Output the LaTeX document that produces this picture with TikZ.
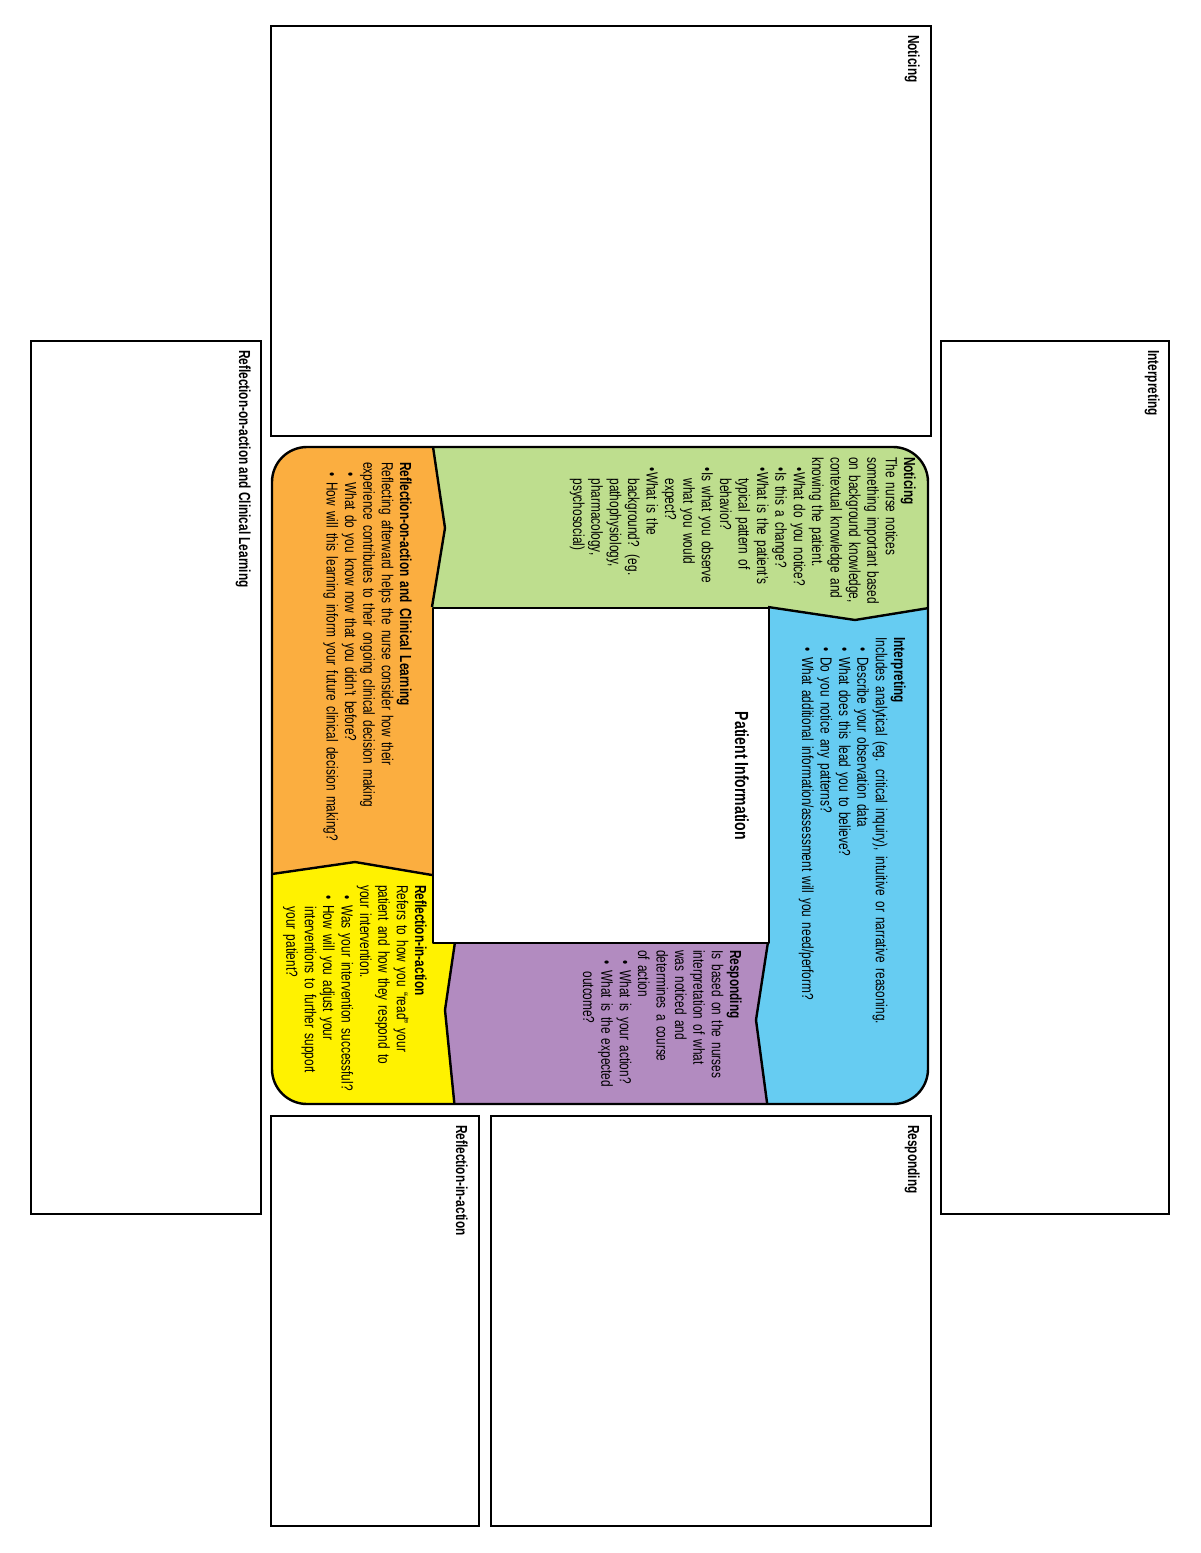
\documentclass[tikz,border=0pt]{standalone}
\usepackage{fontspec}
\setmainfont{Liberation Sans}[FakeStretch=0.74]
\definecolor{cgreen}{HTML}{BEDE8E}
\definecolor{cblue}{HTML}{66CCF2}
\definecolor{cpurple}{HTML}{B28BC0}
\definecolor{cyellow}{HTML}{FFF200}
\definecolor{corange}{HTML}{FBAE40}
\tikzset{
  box/.style={draw=black,line width=2pt},
  seg/.style={draw=black,line width=2.4pt,line join=round},
  txt/.style={rotate=-90,anchor=north west,align=left,inner sep=0pt,font=\fontsize{16}{18.4}\selectfont},
  lbl/.style={rotate=-90,anchor=north west,inner sep=0pt,font=\fontsize{16}{18}\selectfont\bfseries},
}
\begin{document}
\begin{tikzpicture}[x=1pt,y=-1pt]
\useasboundingbox (0,0) rectangle (1200,1553);
\fill[white] (0,0) rectangle (1200,1553);
% outer answer boxes
\node[box,minimum width=660,minimum height=410,anchor=north west,inner sep=0] (bN) at (270,25) {};
\node[box,minimum width=228,minimum height=873,anchor=north west,inner sep=0] (bI) at (940,340) {};
\node[box,minimum width=440,minimum height=410,anchor=north west,inner sep=0] (bR) at (490,1115) {};
\node[box,minimum width=208,minimum height=410,anchor=north west,inner sep=0] (bA) at (270,1115) {};
\node[box,minimum width=230,minimum height=873,anchor=north west,inner sep=0] (bL) at (30,340) {};
\node[lbl] (lN) at (920,35) {Noticing};
\node[lbl] (lI) at (1160,350) {Interpreting};
\node[lbl] (lR) at (920,1125) {Responding};
\node[lbl] (lA) at (468,1125) {Reflection-in-action};
\node[lbl] (lL) at (251,350) {Reflection-on-action and Clinical Learning};
% central wheel
\begin{scope}
\clip[rounded corners=35] (272,447) rectangle (928,1104);
\fill[cgreen] (432,440)--(445,528)--(432,607)--(768,607)--(855,620)--(935,607)--(935,440)--cycle;
\fill[cblue] (768,607)--(855,620)--(935,607)--(935,1110)--(768,1110)--(756,1020)--(768,942)--cycle;
\fill[cpurple] (768,942)--(756,1020)--(768,1110)--(455,1110)--(445,1010)--(455,942)--cycle;
\fill[cyellow] (455,942)--(445,1010)--(455,1110)--(265,1110)--(265,875)--(355,862)--(432,875)--(432,942)--cycle;
\fill[corange] (265,440)--(432,440)--(445,528)--(432,607)--(432,875)--(355,862)--(265,875)--cycle;
\draw[seg] (432,440)--(445,528)--(432,607);
\draw[seg] (768,607)--(855,620)--(935,607);
\draw[seg] (768,942)--(756,1020)--(768,1110);
\draw[seg] (455,942)--(445,1010)--(455,1110);
\draw[seg] (265,875)--(355,862)--(432,875);
\end{scope}
\node[seg,fill=white,minimum width=336,minimum height=335,anchor=north west,inner sep=0] (pi) at (432,607) {};
\draw[seg,rounded corners=35] (272,447) rectangle (928,1104);
\node[rotate=-90,font=\fontsize{19}{21}\selectfont\bfseries] (pt) at (742,776) {Patient Information};
% texts
\node[txt,text width=200] (tN) at (916,457) {\textbf{Noticing}\\The nurse notices\\something important based\\on background knowledge,\\contextual knowledge and\\knowing the patient.\\\ \ •What do you notice?\\\ \ •Is this a change?\\\ \ •What is the patient's\\\ \ \ \ typical pattern of\\\ \ \ \ behavior?\\\ \ •Is what you observe\\\ \ \ \ what you would\\\ \ \ \ expect?\\\ \ •What is the\\\ \ \ \ background? (eg.\\\ \ \ \ pathophysiology,\\\ \ \ \ pharmacology,\\\ \ \ \ psychosocial)};
\node[txt,text width=600] (tI) at (906,637) {\textbf{Interpreting}\\Includes analytical (eg. critical inquiry), intuitive or narrative reasoning.\\\ \ • Describe your observation data\\\ \ • What does this lead you to believe?\\\ \ • Do you notice any patterns?\\\ \ • What additional information/assessment will you need/perform?};
\node[txt,text width=200] (tR) at (742,950) {\textbf{Responding}\\Is based on the nurses\\interpretation of what\\was noticed and\\determines a course\\of action\\\ \ • What is your action?\\\ \ • What is the expected\\\ \ \ \ outcome?};
\node[txt,text width=300] (tA) at (427,885) {\textbf{Reflection-in-action}\\Refers to how you “read” your\\patient and how they respond to\\your intervention.\\\ \ • Was your intervention successful?\\\ \ • How will you adjust your\\\ \ \ \ interventions to further support\\\ \ \ \ your patient?};
\node[txt,text width=600] (tL) at (412,462) {\textbf{Reflection-on-action and Clinical Learning}\\Reflecting afterward helps the nurse consider how their\\experience contributes to their ongoing clinical decision making\\\ \ • What do you know now that you didn't before?\\\ \ • How will this learning inform your future clinical decision making?};
\end{tikzpicture}
\end{document}
